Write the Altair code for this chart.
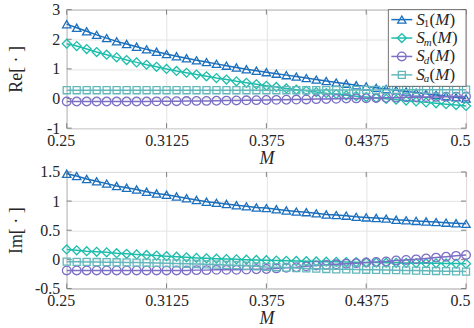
import altair as alt
import numpy as np
import pandas as pd

# ---------------- data ----------------
M = np.round(np.linspace(0.25, 0.5, 41), 6)
x_ticks = [0.25, 0.3125, 0.375, 0.4375, 0.5]
re_ticks = [-1, 0, 1, 2, 3]
im_ticks = [-0.5, 0, 0.5, 1, 1.5]

series = ["S1", "Sm", "Sd", "Sa"]
subs = ["1", "m", "d", "a"]

re_s1 = [2.51, 2.39, 2.27, 2.15, 2.04, 1.93, 1.84, 1.75, 1.66, 1.58,
         1.50, 1.43, 1.36, 1.29, 1.23, 1.17, 1.11, 1.05, 0.99, 0.94,
         0.89, 0.84, 0.79, 0.74, 0.69, 0.64, 0.59, 0.54, 0.50, 0.45,
         0.41, 0.36, 0.32, 0.28, 0.24, 0.20, 0.16, 0.12, 0.08, 0.04,
         0.00]
re_sm = [1.85, 1.77, 1.67, 1.57, 1.48, 1.39, 1.30, 1.22, 1.14, 1.07,
         1.00, 0.93, 0.87, 0.81, 0.75, 0.69, 0.64, 0.58, 0.53, 0.48,
         0.43, 0.39, 0.34, 0.30, 0.26, 0.22, 0.18, 0.15, 0.11, 0.08,
         0.05, 0.02, -0.01, -0.04, -0.07, -0.10, -0.13, -0.16, -0.19, -0.22,
         -0.25]
re_sd = [-0.10, -0.10, -0.10, -0.10, -0.10, -0.10, -0.10, -0.10, -0.10, -0.095,
         -0.09, -0.09, -0.085, -0.08, -0.08, -0.075, -0.07, -0.065, -0.06, -0.055,
         -0.05, -0.045, -0.04, -0.035, -0.03, -0.02, -0.015, -0.01, 0.0, 0.005,
         0.01, 0.02, 0.025, 0.03, 0.04, 0.045, 0.05, 0.055, 0.06, 0.065,
         0.07]
re_sa = [0.28, 0.28, 0.28, 0.28, 0.28, 0.28, 0.28, 0.28, 0.28, 0.28,
         0.28, 0.28, 0.28, 0.28, 0.28, 0.28, 0.28, 0.28, 0.28, 0.28,
         0.28, 0.28, 0.28, 0.28, 0.28, 0.282, 0.284, 0.286, 0.288, 0.29,
         0.291, 0.292, 0.293, 0.294, 0.295, 0.296, 0.297, 0.298, 0.299, 0.30,
         0.30]

im_s1 = [1.47, 1.43, 1.38, 1.34, 1.30, 1.26, 1.23, 1.20, 1.16, 1.13,
         1.11, 1.08, 1.05, 1.02, 0.99, 0.97, 0.95, 0.93, 0.91, 0.89,
         0.88, 0.86, 0.84, 0.82, 0.81, 0.79, 0.77, 0.76, 0.75, 0.73,
         0.72, 0.71, 0.70, 0.68, 0.67, 0.66, 0.65, 0.64, 0.63, 0.62,
         0.61]
im_sm = [0.17, 0.155, 0.14, 0.13, 0.12, 0.105, 0.095, 0.085, 0.075, 0.065,
         0.055, 0.045, 0.035, 0.025, 0.018, 0.012, 0.006, 0.0, -0.005, -0.01,
         -0.015, -0.02, -0.024, -0.028, -0.032, -0.036, -0.04, -0.043, -0.046, -0.049,
         -0.052, -0.055, -0.058, -0.06, -0.062, -0.064, -0.066, -0.068, -0.07, -0.072,
         -0.074]
im_sd = [-0.19, -0.19, -0.19, -0.19, -0.19, -0.19, -0.19, -0.19, -0.19, -0.19,
         -0.19, -0.19, -0.19, -0.185, -0.185, -0.18, -0.18, -0.18, -0.175, -0.17,
         -0.165, -0.155, -0.145, -0.135, -0.12, -0.105, -0.095, -0.085, -0.075, -0.065,
         -0.055, -0.045, -0.035, -0.02, -0.01, 0.0, 0.015, 0.03, 0.045, 0.06,
         0.075]
im_sa = [-0.04, -0.042, -0.044, -0.046, -0.048, -0.05, -0.052, -0.055, -0.058, -0.061,
         -0.065, -0.07, -0.075, -0.08, -0.085, -0.09, -0.095, -0.10, -0.11, -0.12,
         -0.13, -0.135, -0.14, -0.15, -0.155, -0.16, -0.165, -0.17, -0.172, -0.175,
         -0.178, -0.18, -0.183, -0.186, -0.19, -0.193, -0.196, -0.20, -0.203, -0.206,
         -0.21]

re_vals = {"S1": re_s1, "Sm": re_sm, "Sd": re_sd, "Sa": re_sa}
im_vals = {"S1": im_s1, "Sm": im_sm, "Sd": im_sd, "Sa": im_sa}

# ---------------- style ----------------
colors = {"S1": "#1a6fbe", "Sm": "#1dbdac", "Sd": "#7b6fc4", "Sa": "#62b8bb"}
shapes = {"S1": "triangle-up", "Sm": "diamond", "Sd": "circle", "Sa": "square"}
sizes = {"S1": 70, "Sm": 80, "Sd": 75, "Sa": 50}
FONT = "Liberation Serif, Times New Roman, serif"
TXT = "#262626"
BOX = "#808080"
W = 401
H1, H2 = 119, 117


def one():
    return pd.DataFrame({"k": [0]})


def panel(vals, dom, yticks, ytitle, H, legend):
    xs = alt.Scale(domain=[0.25, 0.5], nice=False, zero=False)
    ys = alt.Scale(domain=dom, nice=False, zero=False)
    xaxis = alt.Axis(
        values=x_ticks, title="M", grid=True,
        labelFont=FONT, titleFont=FONT, labelFlush=False,
        labelExpr="format(datum.value, '~g')",
        labelOffset={"condition": {"test": "datum.value == 0.25 || datum.value == 0.5",
                                   "value": -6}, "value": 0},
    )
    yaxis = alt.Axis(
        values=yticks, title=ytitle, grid=True,
        labelFont=FONT, titleFont=FONT, labelFlush=False,
        labelExpr="datum.value < 0 ? '-' + format(-datum.value, '~g') : format(datum.value, '~g')",
        titleX=-50, titleY=H / 2, titleBaseline="middle", titleAlign="center", titleAngle=270,
    )
    layers = []
    # inward tick marks
    xt = alt.Chart(pd.DataFrame({"M": x_ticks}))
    layers.append(xt.mark_rule(color=BOX, strokeWidth=1).encode(
        x=alt.X("M:Q", scale=xs, axis=xaxis), y=alt.value(H), y2=alt.value(H - 5)))
    layers.append(xt.mark_rule(color=BOX, strokeWidth=1).encode(
        x=alt.X("M:Q", scale=xs, axis=xaxis), y=alt.value(0), y2=alt.value(5)))
    yt = alt.Chart(pd.DataFrame({"v": yticks}))
    layers.append(yt.mark_rule(color=BOX, strokeWidth=1).encode(
        y=alt.Y("v:Q", scale=ys, axis=yaxis), x=alt.value(0), x2=alt.value(5)))
    layers.append(yt.mark_rule(color=BOX, strokeWidth=1).encode(
        y=alt.Y("v:Q", scale=ys, axis=yaxis), x=alt.value(W), x2=alt.value(W - 5)))

    for s in series:
        df = pd.DataFrame({"M": M, "v": vals[s]})
        base = alt.Chart(df).encode(
            x=alt.X("M:Q", scale=xs, axis=xaxis),
            y=alt.Y("v:Q", scale=ys, axis=yaxis),
        )
        layers.append(base.mark_line(color=colors[s], strokeWidth=1.5))
        layers.append(base.mark_point(shape=shapes[s], size=sizes[s], filled=False,
                                      color=colors[s], strokeWidth=1.3, opacity=1))

    if legend:
        bx0, bx1, by0, by1 = 323, 401, 0, 77
        layers.append(alt.Chart(one()).mark_rect(fill="white", stroke="#505050", strokeWidth=0.8).encode(
            x=alt.value(bx0), x2=alt.value(bx1), y=alt.value(by0), y2=alt.value(by1)))
        rows = [10, 28.5, 47, 65.5]
        subw = {"1": 5.5, "m": 7.9, "d": 5.5, "a": 5.5}
        for s, sub, ry in zip(series, subs, rows):
            layers.append(alt.Chart(one()).mark_rule(color=colors[s], strokeWidth=1.5).encode(
                x=alt.value(326), x2=alt.value(347), y=alt.value(ry)))
            layers.append(alt.Chart(one()).mark_point(shape=shapes[s], size=sizes[s], filled=False,
                                                      color=colors[s], strokeWidth=1.3, opacity=1).encode(
                x=alt.value(336.5), y=alt.value(ry)))
            sx = 351
            layers.append(alt.Chart(one()).mark_text(text="S", font=FONT, fontStyle="italic", fontSize=17,
                                                     align="left", baseline="middle", color=TXT).encode(
                x=alt.value(sx), y=alt.value(ry)))
            layers.append(alt.Chart(one()).mark_text(text=sub, font=FONT, fontStyle="normal" if sub == "1" else "italic",
                                                     fontSize=11, align="left", baseline="middle", color=TXT).encode(
                x=alt.value(sx + 7.5), y=alt.value(ry + 4.5)))
            px = sx + 7.5 + subw[sub] + 0.3
            layers.append(alt.Chart(one()).mark_text(text="(", font=FONT, fontSize=17,
                                                     align="left", baseline="middle", color=TXT).encode(
                x=alt.value(px), y=alt.value(ry)))
            layers.append(alt.Chart(one()).mark_text(text="M", font=FONT, fontStyle="italic", fontSize=17,
                                                     align="left", baseline="middle", color=TXT).encode(
                x=alt.value(px + 5.7), y=alt.value(ry)))
            layers.append(alt.Chart(one()).mark_text(text=")", font=FONT, fontSize=17,
                                                     align="left", baseline="middle", color=TXT).encode(
                x=alt.value(px + 5.7 + 14.4), y=alt.value(ry)))

    return alt.layer(*layers).properties(width=W, height=H)


top = panel(re_vals, [-1, 3], re_ticks, "Re[ · ]", H1, True)
bottom = panel(im_vals, [-0.5, 1.5], im_ticks, "Im[ · ]", H2, False)

chart = alt.vconcat(top, bottom, spacing=44, bounds="flush").properties(
    padding={"left": 7, "top": 0, "right": 0, "bottom": 0},
    background="white",
).configure_view(
    stroke=BOX, strokeWidth=1
).configure_axis(
    labelFont=FONT, labelFontSize=16, labelColor=TXT, labelPadding=4,
    titleFont=FONT, titleFontSize=18, titleFontWeight="normal", titleColor=TXT,
    gridColor="#e3e3e3", gridWidth=1, domain=False, ticks=False, tickSize=0,
).configure_axisX(
    titleFontStyle="italic", titlePadding=1,
).configure_axisY(
    labelPadding=7,
)

chart.save("out.html", embed_options={"renderer": "svg", "actions": False})
